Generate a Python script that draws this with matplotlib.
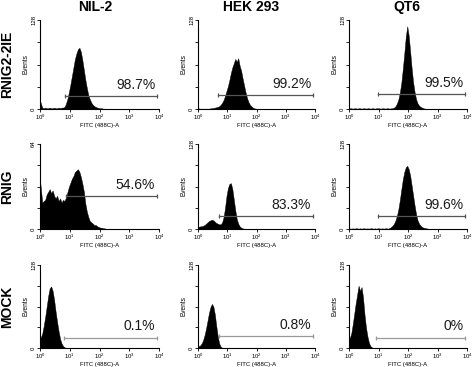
import numpy as np
import matplotlib
matplotlib.use("Agg")
import matplotlib.pyplot as plt
from matplotlib.ticker import FixedLocator, NullLocator

plt.rcParams["font.family"] = ["Liberation Sans", "DejaVu Sans"]
plt.rcParams["mathtext.fontset"] = "custom"
plt.rcParams["mathtext.rm"] = "Liberation Sans"

cell_lines = ["NIL-2", "HEK 293", "QT6"]
constructs = ["RNIG2-2IE", "RNIG", "MOCK"]

# FITC channels: 20 bins per decade from 10^0 to 10^4
log_edges = np.linspace(0, 4, 81)

# event counts per bin, one row of 20 per decade
nil2_rnig22ie = [
    12, 2, 1, 2, 1, 1, 2, 1, 1, 2, 1, 1, 2, 1, 2, 2, 3, 8, 15, 25,
    36, 48, 60, 72, 80, 86, 88, 82, 70, 56, 42, 30, 20, 14, 9, 6, 4, 3, 2, 1.5,
    1, 1, 0.5, 0.5, 0, 0, 0, 0, 0, 0, 0, 0, 0, 0, 0, 0, 0, 0, 0, 0,
    0, 0, 0, 0, 0, 0, 0, 0, 0, 0, 0, 0, 0, 0, 0, 0, 0, 0, 0, 0,
]
hek_rnig22ie = [
    1, 0.5, 0.5, 0.5, 0.5, 0.5, 0.5, 0.5, 1, 1, 1.5, 2, 2.5, 3, 4, 6, 9, 13, 19, 26,
    33, 42, 52, 60, 66, 72, 68, 73, 62, 55, 44, 34, 24, 16, 10, 6, 4, 2, 1, 0.5,
    0, 0, 0, 0, 0, 0, 0, 0, 0, 0, 0, 0, 0, 0, 0, 0, 0, 0, 0, 0,
    0, 0, 0, 0, 0, 0, 0, 0, 0, 0, 0, 0, 0, 0, 0, 0, 0, 0, 0, 0,
]
qt6_rnig22ie = [
    1, 1, 0.5, 1, 1, 0.5, 1, 1, 0.5, 1, 1, 0.5, 1, 1, 0.5, 1, 1, 0.5, 1, 1,
    1, 0.5, 1, 1, 0.5, 1, 1, 0.5, 1, 1, 2, 4, 8, 14, 24, 38, 58, 80, 104, 119,
    105, 82, 58, 38, 24, 14, 8, 5, 3, 2, 1, 0.5, 0.5, 0, 0, 0, 0, 0, 0, 0,
    0, 0, 0, 0, 0, 0, 0, 0, 0, 0, 0, 0, 0, 0, 0, 0, 0, 0, 0, 0,
]
nil2_rnig = [
    37, 20, 21, 22, 26, 28, 30, 27, 29, 25, 23, 25, 21, 23, 20, 22, 21, 24, 28, 32,
    35, 38, 40, 43, 44, 45, 43, 39, 34, 28, 19, 13, 9, 6, 5, 4, 3, 3, 2, 1.5,
    1, 1, 0.5, 0.5, 0, 0, 0, 0, 0, 0, 0, 0, 0, 0, 0, 0, 0, 0, 0, 0,
    0, 0, 0, 0, 0, 0, 0, 0, 0, 0, 0, 0, 0, 0, 0, 0, 0, 0, 0, 0,
]
hek_rnig = [
    3, 4, 4, 5, 6, 8, 10, 12, 13, 14, 13, 11, 9, 8, 7, 7, 10, 18, 32, 50,
    62, 68, 69, 60, 44, 28, 15, 8, 4, 2, 1, 0.5, 0, 0, 0, 0, 0, 0, 0, 0,
    0, 0, 0, 0, 0, 0, 0, 0, 0, 0, 0, 0, 0, 0, 0, 0, 0, 0, 0, 0,
    0, 0, 0, 0, 0, 0, 0, 0, 0, 0, 0, 0, 0, 0, 0, 0, 0, 0, 0, 0,
]
qt6_rnig = [
    1, 0.5, 1, 0.5, 1, 1, 0.5, 1, 0.5, 1, 1, 0.5, 1, 0.5, 1, 1, 0.5, 1, 0.5, 1,
    1, 0.5, 1, 0.5, 1, 1, 0.5, 1.5, 3, 5, 8, 13, 20, 30, 44, 60, 75, 86, 93, 95,
    90, 80, 65, 50, 35, 22, 13, 8, 5, 3, 2, 1.5, 1, 0.5, 0, 0, 0, 0, 0, 0,
    0, 0, 0, 0, 0, 0, 0, 0, 0, 0, 0, 0, 0, 0, 0, 0, 0, 0, 0, 0,
]
nil2_mock = [
    14, 22, 34, 48, 64, 80, 92, 95, 88, 74, 56, 40, 26, 14, 7, 3, 1, 0.5, 0, 0,
    0, 0, 0, 0, 0, 0, 0, 0, 0, 0, 0, 0, 0, 0, 0, 0, 0, 0, 0, 0,
    0, 0, 0, 0, 0, 0, 0, 0, 0, 0, 0, 0, 0, 0, 0, 0, 0, 0, 0, 0,
    0, 0, 0, 0, 0, 0, 0, 0, 0, 0, 0, 0, 0, 0, 0, 0, 0, 0, 0, 0,
]
hek_mock = [
    2, 4, 7, 12, 20, 30, 42, 54, 63, 68, 64, 52, 34, 18, 7, 2, 0.5, 0, 0, 0,
    0, 0, 0, 0, 0, 0, 0, 0, 0, 0, 0, 0, 0, 0, 0, 0, 0, 0, 0, 0,
    0, 0, 0, 0, 0, 0, 0, 0, 0, 0, 0, 0, 0, 0, 0, 0, 0, 0, 0, 0,
    0, 0, 0, 0, 0, 0, 0, 0, 0, 0, 0, 0, 0, 0, 0, 0, 0, 0, 0, 0,
]
qt6_mock = [
    12, 22, 36, 52, 68, 82, 96, 88, 94, 78, 52, 32, 18, 8, 3, 1, 0, 0, 0, 0,
    0, 0, 0, 0, 0, 0, 0, 0, 0, 0, 0, 0, 0, 0, 0, 0, 0, 0, 0, 0,
    0, 0, 0, 0, 0, 0, 0, 0, 0, 0, 0, 0, 0, 0, 0, 0, 0, 0, 0, 0,
    0, 0, 0, 0, 0, 0, 0, 0, 0, 0, 0, 0, 0, 0, 0, 0, 0, 0, 0, 0,
]

histograms = [
    [nil2_rnig22ie, hek_rnig22ie, qt6_rnig22ie],
    [nil2_rnig, hek_rnig, qt6_rnig],
    [nil2_mock, hek_mock, qt6_mock],
]
y_max = [[128, 128, 128], [64, 128, 128], [128, 128, 128]]

percent_labels = [
    ["98.7%", "99.2%", "99.5%"],
    ["54.6%", "83.3%", "99.6%"],
    ["0.1%", "0.8%", "0%"],
]
gate_start = [[6.9, 5.0, 9.8], [7.2, 5.1, 9.8], [6.5, 5.4, 8.5]]
gate_height = [[19, 20, 22], [25, 20, 19], [16, 19, 16]]

# layout in pixels of the 474x367 picture
W, H = 474, 367
col_left = [40, 198, 349]
col_width = [119, 117, 118]
row_top = [20, 144, 265]
row_bottom = [109, 229, 348]
title_x = [95, 251, 407]

fig = plt.figure(figsize=(W / 100, H / 100), dpi=100)
fig.patch.set_facecolor("white")

# channel centres on the log axis, the first one pinned to the axis edge
centres = 10 ** ((log_edges[:-1] + log_edges[1:]) / 2)
centres[0] = 1.0
small = 4.3

for r in range(3):
    for c in range(3):
        ax = fig.add_axes([
            col_left[c] / W,
            1 - row_bottom[r] / H,
            col_width[c] / W,
            (row_bottom[r] - row_top[r]) / H,
        ])
        ax.fill_between(centres, histograms[r][c], 0, color="black", linewidth=0.3)
        ax.set_xscale("log")
        ax.set_xlim(1, 1e4)
        ymax = y_max[r][c]
        ax.set_ylim(0, ymax)

        gate_color = "#555555" if r < 2 else "#9a9a9a"
        ax.plot([gate_start[r][c], 10 ** 3.92], [gate_height[r][c]] * 2,
                color=gate_color, linewidth=0.9, marker="|", markersize=3.5,
                markeredgewidth=0.9, clip_on=False)
        ax.annotate(percent_labels[r][c], (10 ** 3.87, gate_height[r][c]),
                    xytext=(0, 3), textcoords="offset points",
                    ha="right", va="bottom", fontsize=10, color="#1a1a1a")

        for side in ["top", "right"]:
            ax.spines[side].set_visible(False)
        for side in ["left", "bottom"]:
            ax.spines[side].set_linewidth(0.8)

        ax.xaxis.set_major_locator(FixedLocator([1, 10, 100, 1000, 10000]))
        ax.xaxis.set_minor_locator(NullLocator())
        ax.set_xticklabels([r"$10^{0}$", r"$10^{1}$", r"$10^{2}$",
                            r"$10^{3}$", r"$10^{4}$"])
        ax.yaxis.set_major_locator(FixedLocator([0, ymax]))
        ax.yaxis.set_minor_locator(FixedLocator([ymax / 4, ymax / 2, ymax * 3 / 4]))
        ax.set_yticklabels(["0", str(ymax)], rotation=90, va="center")
        ax.tick_params(which="both", direction="out", length=2, width=0.6,
                       labelsize=small, pad=0.8)
        ax.set_xlabel("FITC (488C)-A", fontsize=small, labelpad=0.5)
        ax.set_ylabel("Events", fontsize=small + 0.4, labelpad=1)

for c, name in enumerate(cell_lines):
    fig.text(title_x[c] / W, 1 - 7 / H, name, ha="center", va="center",
             fontsize=10, fontweight="bold")

for r, name in enumerate(constructs):
    yc = (row_top[r] + row_bottom[r]) / 2
    fig.text(7 / W, 1 - yc / H, name, ha="center", va="center",
             rotation=90, fontsize=10, fontweight="bold")

fig.savefig("out.png", dpi=100, facecolor="white")
